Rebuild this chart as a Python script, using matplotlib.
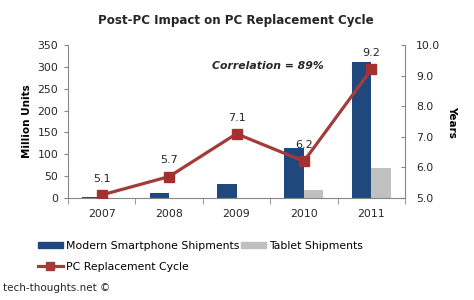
import numpy as np
import matplotlib.pyplot as plt
from matplotlib.lines import Line2D
from matplotlib.patches import Patch

years = ["2007", "2008", "2009", "2010", "2011"]
smartphones = [3, 12, 33, 115, 310]
tablets = [0, 0, 0, 19, 69]
cycle = [5.1, 5.7, 7.1, 6.2, 9.2]

blue = "#1f497d"
gray = "#c0c0c0"
red = "#a33b3a"
axis_gray = "#868686"
txt = "#262626"

plt.rcParams["font.family"] = "DejaVu Sans"

fig = plt.figure(figsize=(4.74, 3.0), dpi=100)
ax = fig.add_axes([68 / 474, 102 / 300, 337 / 474, 153 / 300])
ax2 = ax.twinx()

x = np.arange(len(years))
w = 0.29
ax.bar(x - w / 2, smartphones, w, color=blue, zorder=2)
ax.bar(x + w / 2, tablets, w, color=gray, zorder=2)

ax2.plot(x, cycle, color=red, lw=2.3, marker="s", ms=7.5, mfc="#a5302f", mec="#a5302f", zorder=3)
for xi, v in zip(x, cycle):
    ax2.annotate(f"{v:.1f}", (xi, v), xytext=(0, 8), textcoords="offset points",
                 ha="center", va="bottom", fontsize=8, color=txt)

ax.set_xlim(-0.5, 4.5)
ax.set_ylim(0, 350)
ax.set_yticks(range(0, 351, 50))
ax2.set_ylim(5, 10)
ax2.set_yticks(np.arange(5, 10.1, 1))
ax2.set_yticklabels([f"{v:.1f}" for v in np.arange(5, 10.1, 1)])

ax.set_xticks(x)
ax.set_xticklabels(years)
ax.set_xticks(np.arange(-0.5, 4.6, 1), minor=True)
ax.tick_params(axis="x", which="major", length=0, pad=8, labelsize=7.8, labelcolor=txt)
ax.tick_params(axis="x", which="minor", length=4, color=axis_gray, direction="out")
ax.tick_params(axis="y", length=3, color=axis_gray, labelsize=7.8, labelcolor=txt, pad=4)
ax2.tick_params(axis="y", length=3, color=axis_gray, direction="in", labelsize=7.8,
                labelcolor=txt, pad=8)

for a in (ax, ax2):
    a.spines["top"].set_visible(False)
    for s in ("left", "right", "bottom"):
        a.spines[s].set_color(axis_gray)
ax.spines["right"].set_visible(False)
ax2.spines["left"].set_visible(False)
ax2.spines["bottom"].set_visible(False)

ax.set_ylabel("Million Units", fontsize=7.5, fontweight="bold", color="black", labelpad=4)
ax2.set_ylabel("Years", fontsize=7.5, fontweight="bold", color="black", rotation=-90, labelpad=12)

fig.text(0.497, 0.932, "Post-PC Impact on PC Replacement Cycle", ha="center", va="center",
         fontsize=8.6, fontweight="bold", color=txt)
ax.text(2.47, 0.865, "Correlation = 89%", transform=ax.get_xaxis_transform(), ha="center",
        va="center", fontsize=7.8, fontweight="bold", style="italic", color=txt)

handles = [
    Patch(color=blue, label="Modern Smartphone Shipments"),
    Line2D([], [], color=red, lw=2.3, marker="s", ms=6, label="PC Replacement Cycle"),
    Patch(color=gray, label="Tablet Shipments"),
]
fig.legend(handles=handles, ncol=2, loc="upper left", bbox_to_anchor=(0.068, 0.215),
           frameon=False, fontsize=7.8, handlelength=2.3, handleheight=0.5,
           handletextpad=0.3, columnspacing=0.2, labelspacing=1.0, borderpad=0)

fig.text(0.006, 0.04, "tech-thoughts.net \u00a9", ha="left", va="center", fontsize=7.5, color=txt)

fig.savefig("out.png", dpi=100)
